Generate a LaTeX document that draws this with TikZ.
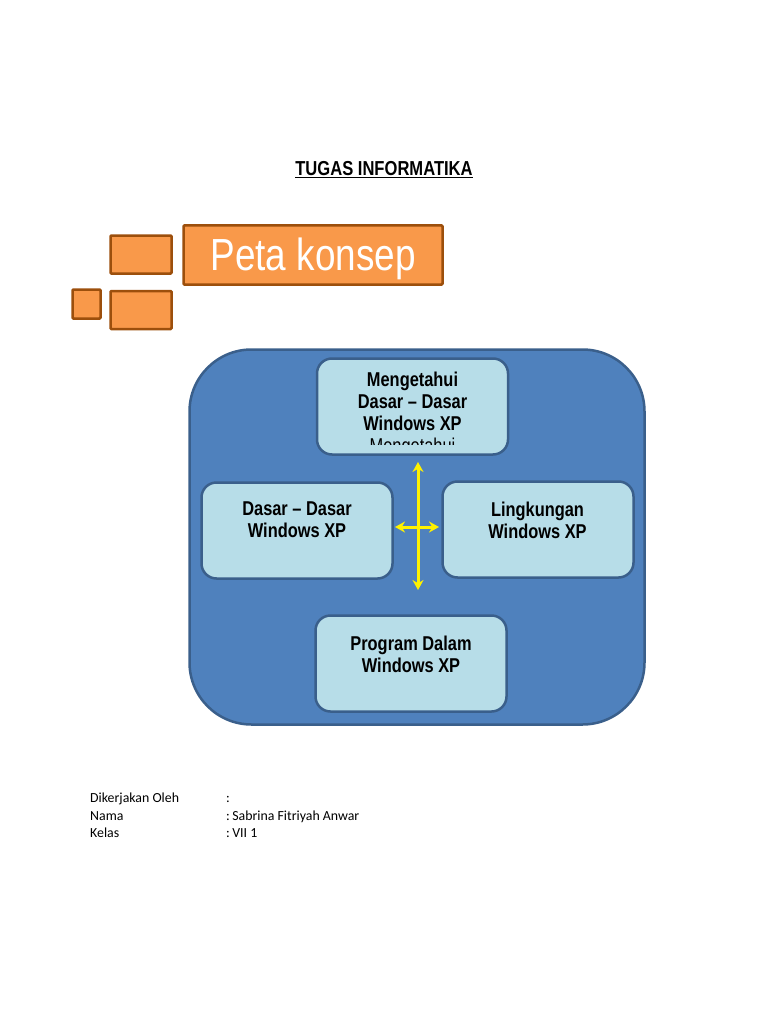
\documentclass[tikz,border=0pt]{standalone}
\usepackage{fontspec}
\setmainfont{Liberation Sans}
\newfontfamily\narrowfont[FakeStretch=0.82]{Liberation Sans}
\newfontfamily\bodyfont{Carlito}
\usetikzlibrary{positioning,arrows.meta}
\definecolor{petaorange}{HTML}{F9994A}
\definecolor{petaedge}{HTML}{9C4F0C}
\definecolor{outerblue}{HTML}{4F81BD}
\definecolor{outeredge}{HTML}{3A5F8B}
\definecolor{boxblue}{HTML}{B7DDE8}
\tikzset{
  orangebox/.style={draw=petaedge, line width=2.5pt, fill=petaorange, rounded corners=1pt, inner sep=0pt, minimum width=#1},
  conceptbox/.style={draw=outeredge, line width=2.5pt, fill=boxblue, rounded corners=15pt, inner sep=0pt, minimum width=191pt, minimum height=96pt},
  boxtext/.style={font=\narrowfont\bfseries\fontsize{20}{22}\selectfont, align=center, text=black, inner sep=0pt},
  footertext/.style={font=\bodyfont\fontsize{13.85}{17}\selectfont, anchor=base west, inner sep=0pt},
  yellowarrow/.style={draw=yellow, line width=3pt, {Stealth[length=10pt,width=11pt]}-{Stealth[length=10pt,width=11pt]}}
}
\begin{document}
\begin{tikzpicture}[x=1pt,y=-1pt]
  \useasboundingbox (0,0) rectangle (768,1024);

  % Title
  \node[font=\narrowfont\bfseries\fontsize{20.2}{22}\selectfont, inner sep=0pt] (title) at (384,169.5) {\underline{TUGAS INFORMATIKA}};

  % Orange boxes
  \node[orangebox=259pt, minimum height=59pt, text=white, text height=38pt, text depth=8pt, font=\narrowfont\fontsize{45}{48}\selectfont] (peta) at (313,255) {Peta konsep};
  \node[orangebox=61pt, minimum height=38pt] (small_a) at (141,254.5) {};
  \node[orangebox=61pt, minimum height=38pt, below=15pt of small_a] (small_b) {};
  \node[orangebox=28pt, minimum height=29pt] (small_c) at (86.5,304) {};

  % Concept map
  \node[draw=outeredge, line width=2.5pt, fill=outerblue, rounded corners=62pt, minimum width=455pt, minimum height=375pt, inner sep=0pt] (outer) at (417,537) {};
  \node[conceptbox] (top) at (412.5,406.5) {};
  \node[conceptbox] (left) at (297,530.5) {};
  \node[conceptbox, right=47.5pt of left, yshift=1pt] (right) {};
  \node[conceptbox] (bottom) at (411,663.5) {};

  \begin{scope}
    \clip (320,362) rectangle (505,444);
    \node[boxtext, anchor=north] (top_text) at (412.5,372) {Mengetahui\\Dasar – Dasar\\Windows XP\\{\mdseries Mengetahui}};
  \end{scope}
  \node[boxtext, anchor=north] (left_text) at (297,502) {Dasar – Dasar\\Windows XP};
  \node[boxtext, anchor=north] (right_text) at (537.5,502) {Lingkungan\\Windows XP};
  \node[boxtext, anchor=north] (bottom_text) at (411,636) {Program Dalam\\Windows XP};

  % Arrows
  \coordinate (v_top) at (418,462);
  \coordinate (v_bottom) at (418,590);
  \coordinate (h_left) at (395,527);
  \coordinate (h_right) at (439,527);
  \draw[yellowarrow] (v_top) -- (v_bottom);
  \draw[yellowarrow] (h_left) -- (h_right);

  % Footer
  \node[footertext] (label_a) at (90,802) {Dikerjakan Oleh};
  \node[footertext] (label_b) at (90,820) {Nama};
  \node[footertext] (label_c) at (90,837) {Kelas};
  \node[footertext] (value_a) at (226,802) {:};
  \node[footertext] (value_b) at (226,820) {:\hspace{2.4pt}Sabrina Fitriyah Anwar};
  \node[footertext] (value_c) at (226,837) {:\hspace{2.4pt}VII 1};
\end{tikzpicture}
\end{document}
